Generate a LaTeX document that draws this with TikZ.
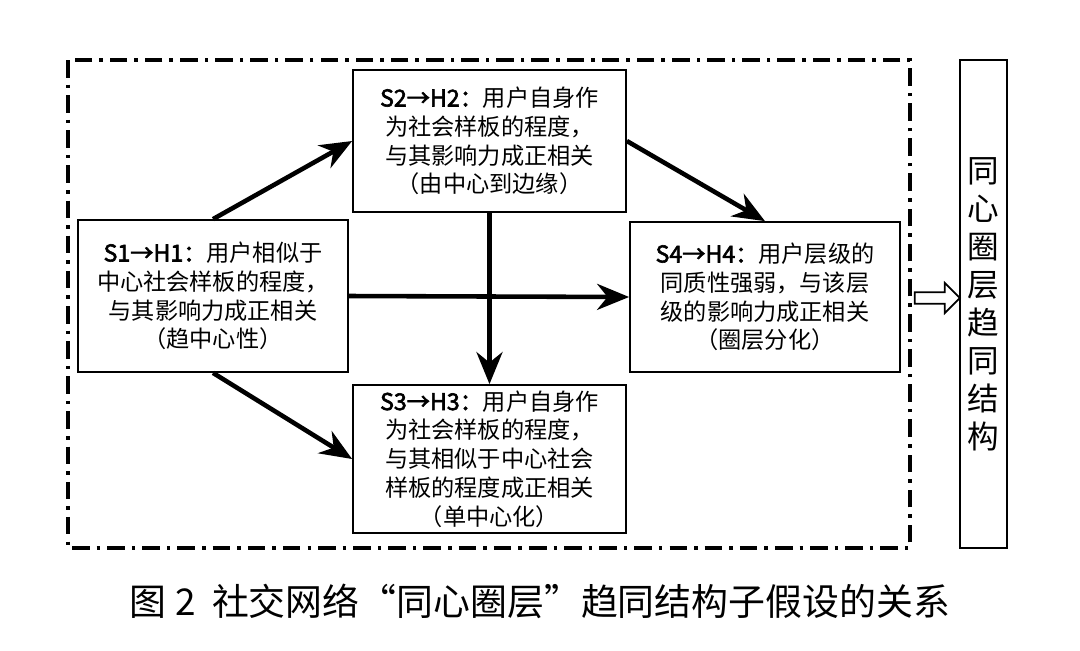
\documentclass[tikz,border=0pt]{standalone}
\usepackage{fontspec}
\setmainfont[AutoFakeBold=2.5]{Noto Sans CJK SC}
\usetikzlibrary{arrows.meta,shapes.arrows}
\begin{document}
\begin{tikzpicture}[x=0.1mm,y=-0.1mm,
  box/.style={draw,line width=0.5pt,inner sep=0pt,align=center,font=\fontsize{6.6pt}{8.2pt}\selectfont},
  arr/.style={line width=1.3pt,-{Stealth[length=3.2mm,width=2.6mm]}}]
\useasboundingbox (0,0) rectangle (1080,651);
\draw[line width=0.9pt,dash pattern=on 5pt off 2pt on 1pt off 2pt] (68,60) rectangle (910,548);
\node[box,minimum width=27mm,minimum height=15.2mm] (s1) at (213,296) {\textbf{S1→H1：}用户相似于\\中心社会样板的程度，\\与其影响力成正相关\\（趋中心性）};
\node[box,minimum width=27.3mm,minimum height=14.2mm] (s2) at (489.5,141) {\textbf{S2→H2：}用户自身作\\为社会样板的程度，\\与其影响力成正相关\\（由中心到边缘）};
\node[box,minimum width=27.3mm,minimum height=14.8mm] (s3) at (489.5,459) {\textbf{S3→H3：}用户自身作\\为社会样板的程度，\\与其相似于中心社会\\样板的程度成正相关\\（单中心化）};
\node[box,minimum width=27mm,minimum height=15mm] (s4) at (765,297) {\textbf{S4→H4：}用户层级的\\同质性强弱，与该层\\级的影响力成正相关\\（圈层分化）};
\node[box,minimum width=4.7mm,minimum height=48.8mm,font=\fontsize{9pt}{10.8pt}\selectfont] (r) at (983.5,304) {同\\心\\圈\\层\\趋\\同\\结\\构};
\node[draw,single arrow,line width=0.5pt,minimum height=4.5mm,minimum width=3mm,single arrow head extend=0.8mm,inner sep=0.4mm] (ha) at (934.5,298) {};
\draw[arr] (s1.north) -- (s2.west);
\draw[arr] (s1.south) -- (s3.west);
\draw[arr] (s1.east) -- (s4.west);
\draw[arr] (s2.south) -- (s3.north);
\draw[arr] (s2.east) -- (s4.north);
\node[font=\fontsize{10.5pt}{13pt}\selectfont] (cap) at (540,601) {图 2\ \ 社交网络“同心圈层”趋同结构子假设的关系};
\end{tikzpicture}
\end{document}
